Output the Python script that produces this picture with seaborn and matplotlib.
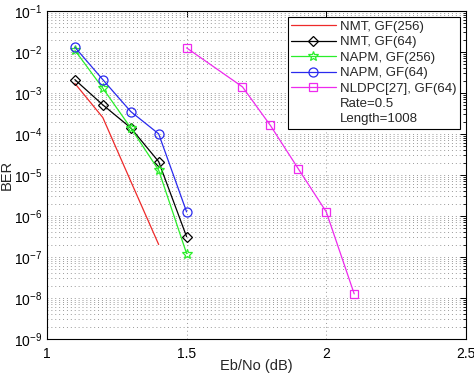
import numpy as np
import pandas as pd
import matplotlib
matplotlib.use("Agg")
import matplotlib.pyplot as plt
import seaborn as sns
from matplotlib.ticker import LogLocator, FixedLocator, NullFormatter
from matplotlib.lines import Line2D

sns.set_style("white")
plt.rcParams['font.family'] = ['Liberation Sans', 'DejaVu Sans']
plt.rcParams['mathtext.fontset'] = 'custom'
plt.rcParams['mathtext.rm'] = 'Liberation Sans'
plt.rcParams['mathtext.it'] = 'Liberation Sans'

# Data
x_nmt256 = [1.1, 1.2, 1.3, 1.4]
ber_nmt256 = [1.7e-3, 2.5e-4, 7e-6, 2e-7]
x_nmt64 = [1.1, 1.2, 1.3, 1.4, 1.5]
ber_nmt64 = [2.1e-3, 5.1e-4, 1.4e-4, 2.1e-5, 3.1e-7]
x_napm256 = [1.1, 1.2, 1.3, 1.4, 1.5]
ber_napm256 = [1.1e-2, 1.3e-3, 1.4e-4, 1.3e-5, 1.2e-7]
x_napm64 = [1.1, 1.2, 1.3, 1.4, 1.5]
ber_napm64 = [1.3e-2, 2.1e-3, 3.5e-4, 1.0e-4, 1.25e-6]
x_nldpc = [1.5, 1.7, 1.8, 1.9, 2.0, 2.1]
ber_nldpc = [1.25e-2, 1.4e-3, 1.6e-4, 1.4e-5, 1.25e-6, 1.25e-8]

labels = ["NMT, GF(256)", "NMT, GF(64)", "NAPM, GF(256)", "NAPM, GF(64)", "NLDPC[27], GF(64)"]
extra_lines = ["Rate=0.5", "Length=1008"]
x_ticks = [1, 1.5, 2, 2.5]
x_tick_labels = ["1", "1.5", "2", "2.5"]

series = [
    (x_nmt256, ber_nmt256, labels[0], "#ee2a2a", None),
    (x_nmt64, ber_nmt64, labels[1], "#000000", "D"),
    (x_napm256, ber_napm256, labels[2], "#2aee2a", "*"),
    (x_napm64, ber_napm64, labels[3], "#2a2aee", "o"),
    (x_nldpc, ber_nldpc, labels[4], "#ee2aee", "s"),
]
msizes = {None: 0, "D": 5.5, "*": 7, "o": 6.5, "s": 5.5}

fig = plt.figure(figsize=(4.74, 3.74), dpi=100)
ax = fig.add_axes([0.099, 0.094, 0.884, 0.877])

handles = []
for xs, ys, lab, col, mk in series:
    df = pd.DataFrame({"x": xs, "y": ys})
    ms = msizes[mk]
    sns.lineplot(data=df, x="x", y="y", ax=ax, color=col, linewidth=0.9,
                 marker=mk if mk else None, markersize=ms,
                 markerfacecolor="none", markeredgecolor=col, markeredgewidth=0.9,
                 legend=False)
    handles.append(Line2D([], [], color=col, linewidth=0.9, marker=mk if mk else None,
                          markersize=ms, markerfacecolor="none",
                          markeredgecolor=col, markeredgewidth=0.9, label=lab))
for t in extra_lines:
    handles.append(Line2D([], [], color="none", label=t))

ax.set_yscale("log")
ax.set_xlim(1, 2.5)
ax.set_ylim(1e-9, 1e-1)
ax.xaxis.set_major_locator(FixedLocator(x_ticks))
ax.set_xticklabels(x_tick_labels)
ax.yaxis.set_major_locator(LogLocator(base=10, numticks=20))
ax.yaxis.set_minor_locator(LogLocator(base=10, subs=np.arange(2, 10), numticks=20))
ax.yaxis.set_minor_formatter(NullFormatter())

ax.grid(True, which="major", axis="both", linestyle=(0, (1, 3)), color="#999999", linewidth=0.7)
ax.grid(True, which="minor", axis="y", linestyle=(0, (1, 3)), color="#999999", linewidth=0.7)

ax.tick_params(axis="both", which="both", direction="in", top=True, right=True,
               labelsize=10, colors="black")
ax.tick_params(axis="x", which="major", pad=6)
ax.tick_params(which="major", length=4, width=0.7)
ax.tick_params(which="minor", length=2, width=0.6)
for s in ax.spines.values():
    s.set_color("black")
    s.set_linewidth(0.8)

ax.set_xlabel("Eb/No (dB)", fontsize=10.5)
ax.set_ylabel("BER", fontsize=10.5)
ax.xaxis.set_label_coords(0.5, -0.06)
ax.yaxis.set_label_coords(-0.08, 0.5)

leg = ax.legend(handles=handles, loc="upper right", bbox_to_anchor=(0.985, 0.98),
                fontsize=9.5, frameon=True, fancybox=False, edgecolor="black",
                handlelength=3.4, handletextpad=0.3, borderpad=0.25, labelspacing=0.24,
                borderaxespad=0.0)
leg.get_frame().set_linewidth(0.8)
leg.get_frame().set_alpha(1)

fig.savefig("out.png", dpi=100)
